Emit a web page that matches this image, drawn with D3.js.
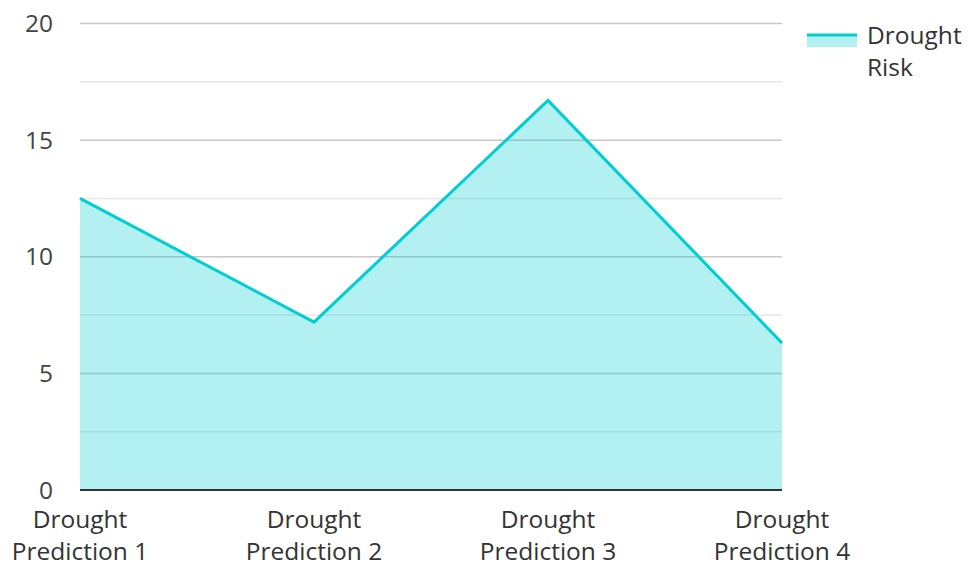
<!DOCTYPE html>
<html>
<head>
<meta charset="utf-8">
<script src="https://cdn.jsdelivr.net/npm/d3@7"></script>
<style>
  html, body { margin: 0; padding: 0; background: #fff; }
  text { font-family: "Open Sans", "Noto Sans", sans-serif; }
</style>
</head>
<body>
<svg id="chart" width="969" height="562"></svg>
<script>
// Drought risk per prediction
const categories = ["Drought Prediction 1", "Drought Prediction 2", "Drought Prediction 3", "Drought Prediction 4"];
const riskValues = [12.5, 7.2, 16.7, 6.3];
const yTicks = [0, 5, 10, 15, 20];
const yMinorTicks = [2.5, 7.5, 12.5, 17.5];
const seriesName = "Drought Risk";

const lineColor = "#00CED1";
const fillColor = "rgba(0, 206, 209, 0.3)";
const fontSize = 24.5;

const svg = d3.select("#chart");
const margin = { left: 80, right: 187, top: 23.5, bottom: 72 };
const W = 969, H = 562;

const x = d3.scalePoint()
  .domain(categories)
  .range([margin.left, W - margin.right]);

const y = d3.scaleLinear()
  .domain([0, 20])
  .range([H - margin.bottom, margin.top]);

// minor gridlines
svg.append("g")
  .selectAll("line")
  .data(yMinorTicks)
  .join("line")
  .attr("x1", margin.left).attr("x2", W - margin.right)
  .attr("y1", d => y(d)).attr("y2", d => y(d))
  .attr("stroke", "#e6e6e6").attr("stroke-width", 1.5);

// major gridlines
svg.append("g")
  .selectAll("line")
  .data(yTicks.filter(d => d !== 0))
  .join("line")
  .attr("x1", margin.left).attr("x2", W - margin.right)
  .attr("y1", d => y(d)).attr("y2", d => y(d))
  .attr("stroke", "#c8c8c8").attr("stroke-width", 1.5);

// y-axis labels
svg.append("g")
  .selectAll("text")
  .data(yTicks)
  .join("text")
  .attr("x", 53)
  .attr("y", d => y(d))
  .attr("dy", "0.35em")
  .attr("text-anchor", "end")
  .attr("font-size", fontSize)
  .attr("fill", "#444")
  .text(d => d);

const data = categories.map((c, i) => ({ c, v: riskValues[i] }));

// area fill
svg.append("path")
  .datum(data)
  .attr("fill", fillColor)
  .attr("d", d3.area()
    .x(d => x(d.c))
    .y0(y(0))
    .y1(d => y(d.v)));

// line
svg.append("path")
  .datum(data)
  .attr("fill", "none")
  .attr("stroke", lineColor)
  .attr("stroke-width", 3)
  .attr("stroke-linejoin", "miter")
  .attr("d", d3.line()
    .x(d => x(d.c))
    .y(d => y(d.v)));

// x baseline
svg.append("line")
  .attr("x1", margin.left).attr("x2", W - margin.right)
  .attr("y1", y(0)).attr("y2", y(0))
  .attr("stroke", "#333").attr("stroke-width", 2);

// x-axis labels (two lines)
const xl = svg.append("g")
  .selectAll("text")
  .data(categories)
  .join("text")
  .attr("text-anchor", "middle")
  .attr("font-size", fontSize)
  .attr("fill", "#333");
xl.each(function (d) {
  const parts = [d.split(" ")[0], d.split(" ").slice(1).join(" ")];
  const t = d3.select(this);
  parts.forEach((p, i) => {
    t.append("tspan")
      .attr("x", x(d))
      .attr("y", 528 + i * 32)
      .text(p);
  });
});

// legend
const lg = svg.append("g");
lg.append("rect")
  .attr("x", 807).attr("y", 34)
  .attr("width", 50).attr("height", 13)
  .attr("fill", fillColor);
lg.append("line")
  .attr("x1", 807).attr("x2", 857)
  .attr("y1", 35).attr("y2", 35)
  .attr("stroke", lineColor).attr("stroke-width", 3);
const lt = lg.append("text")
  .attr("font-size", fontSize)
  .attr("fill", "#333");
seriesName.split(" ").forEach((w, i) => {
  lt.append("tspan").attr("x", 867).attr("y", 44 + i * 32).text(w);
});
</script>
</body>
</html>
